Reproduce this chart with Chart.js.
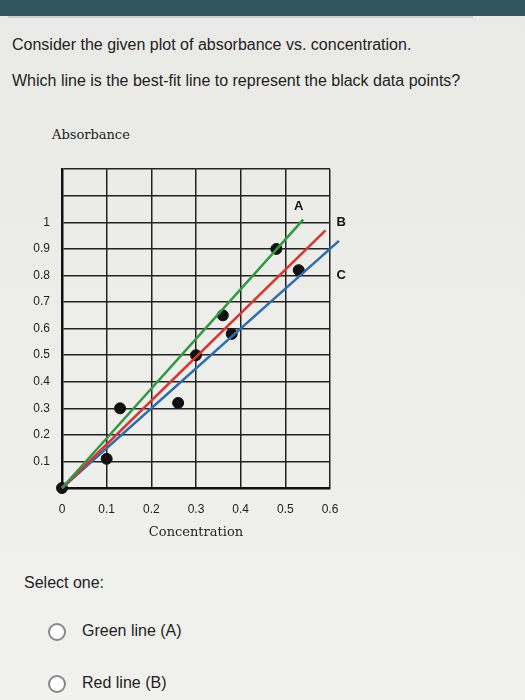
<!DOCTYPE html>
<html><head><meta charset="utf-8">
<script src="https://cdn.jsdelivr.net/npm/chart.js@4"></script>
<style>
body{margin:0;width:525px;height:700px;background:linear-gradient(#e9eae6,#f1f1ee);font-family:"Liberation Sans",Arial,sans-serif;position:relative;overflow:hidden;color:#222}
.top{position:absolute;left:0;top:0;width:525px;height:16px;background:#2e5560}
.line{position:absolute;left:8px;top:16px;width:465px;height:2px;background:#ccc}
.q{position:absolute;left:12px;font-size:16px}
.r{position:absolute;left:48px;font-size:16px}
.r span{display:inline-block;width:14px;height:14px;border:2px solid #888;border-radius:50%;vertical-align:middle;margin-right:16px;background:#fff}
#wrap{position:absolute;left:0;top:150px;width:360px;height:392px}
.ab{position:absolute;left:52px;top:127px;font:13px "DejaVu Serif",serif}
</style></head><body>
<div class="top"></div><div class="line"></div>
<div class="q" style="top:36px">Consider the given plot of absorbance vs. concentration.</div>
<div class="q" style="top:72px">Which line is the best-fit line to represent the black data points?</div>
<div class="ab">Absorbance</div>
<div id="wrap"><canvas id="c"></canvas></div>
<div class="q" style="left:24px;top:574px">Select one:</div>
<div class="r" style="top:622px"><span></span>Green line (A)</div>
<div class="r" style="top:674px"><span></span>Red line (B)</div>
<script>
const pointsX=[0,0.1,0.13,0.26,0.3,0.36,0.38,0.48,0.53];
const pointsY=[0,0.11,0.3,0.32,0.5,0.65,0.58,0.9,0.82];
const lineA=[[0,0],[0.54,1.01]];
const lineB=[[0,0],[0.59,0.97]];
const lineC=[[0,0],[0.62,0.93]];
const yTicks=[0.1,0.2,0.3,0.4,0.5,0.6,0.7,0.8,0.9,1];
const labels=[["A",0.53,1.06],["B",0.625,1.0],["C",0.625,0.8]];
const toPts=a=>a.map(p=>({x:p[0],y:p[1]}));
const lbl={id:'lbl',afterDatasetsDraw(ch){const c=ch.ctx,x=ch.scales.x,y=ch.scales.y;c.save();c.font='bold 13px "Liberation Sans",Arial';c.fillStyle='#111';c.textAlign='center';c.textBaseline='middle';labels.forEach(l=>c.fillText(l[0],x.getPixelForValue(l[1]),y.getPixelForValue(l[2])));c.restore();}};
new Chart(document.getElementById('c'),{
type:'scatter',
data:{datasets:[
{data:toPts(lineA),showLine:true,borderColor:'#2f9a3e',borderWidth:2.5,pointRadius:0,clip:false},
{data:toPts(lineB),showLine:true,borderColor:'#d9352e',borderWidth:2.5,pointRadius:0,clip:false},
{data:toPts(lineC),showLine:true,borderColor:'#2c6db0',borderWidth:2.5,pointRadius:0,clip:false},
{data:pointsX.map((x,i)=>({x,y:pointsY[i]})),backgroundColor:'#111',borderColor:'#111',pointRadius:5.5,clip:false}
]},
options:{responsive:true,maintainAspectRatio:false,animation:false,
layout:{padding:{top:12,right:30,left:0,bottom:0}},
plugins:{legend:{display:false},tooltip:{enabled:false}},
scales:{
x:{type:'linear',min:0,max:0.6,afterFit(s){s.height=54;},
 ticks:{stepSize:0.1,padding:14,color:'#222',font:{size:12,family:'"Liberation Sans",Arial'},callback:v=>Math.round(v*10)/10},
 grid:{color:'#222',lineWidth:1.5,drawTicks:false},border:{color:'#111',width:2.5},
 title:{display:true,text:'Concentration',color:'#222',padding:{top:2,bottom:2},font:{size:13,family:'"DejaVu Serif",serif'}}},
y:{type:'linear',min:0,max:1.2,afterFit(s){s.width=62;},
 afterBuildTicks(s){s.ticks=[0,...yTicks,1.1,1.2].map(v=>({value:v}));},
 ticks:{color:'#222',font:{size:12,family:'"Liberation Sans",Arial'},padding:12,callback:v=>yTicks.some(t=>Math.abs(t-v)<1e-6)?String(Math.round(v*10)/10):''},
 grid:{color:'#222',lineWidth:1.5,drawTicks:false},border:{color:'#111',width:2.5}}
}},
plugins:[lbl]});
</script></body></html>
